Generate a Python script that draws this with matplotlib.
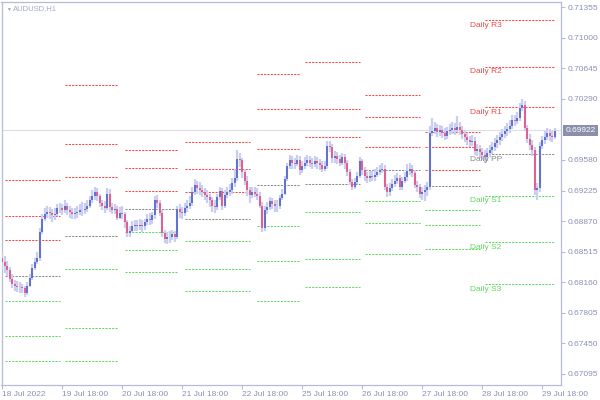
import matplotlib
matplotlib.use("Agg")
import matplotlib.pyplot as plt
import matplotlib.transforms as mtransforms
import numpy as np

plt.rcParams["font.family"] = ["Liberation Sans", "DejaVu Sans"]

# AUDUSD H1 bars, oldest first
first_open = 0.6844
closes = [
    0.6839, 0.6835, 0.6830, 0.6820, 0.6814, 0.6812, 0.6811, 0.6810, 0.6809, 0.6803,
    0.6812, 0.6821, 0.6833, 0.6839, 0.6844, 0.6874, 0.6890, 0.6895, 0.6898, 0.6896,
    0.6894, 0.6895, 0.6902, 0.6902, 0.6900, 0.6904, 0.6900, 0.6897, 0.6895, 0.6896,
    0.6897, 0.6900, 0.6900, 0.6901, 0.6905, 0.6911, 0.6916, 0.6921, 0.6916, 0.6908,
    0.6904, 0.6902, 0.6919, 0.6903, 0.6900, 0.6901, 0.6891, 0.6896, 0.6895, 0.6886,
    0.6873, 0.6876, 0.6881, 0.6882, 0.6881, 0.6883, 0.6881, 0.6886, 0.6889, 0.6888,
    0.6894, 0.6911, 0.6908, 0.6896, 0.6873, 0.6866, 0.6868, 0.6868, 0.6872, 0.6869,
    0.6901, 0.6897, 0.6896, 0.6902, 0.6905, 0.6908, 0.6921, 0.6929, 0.6925, 0.6923,
    0.6921, 0.6917, 0.6915, 0.6911, 0.6905, 0.6903, 0.6915, 0.6922, 0.6904, 0.6917,
    0.6921, 0.6923, 0.6931, 0.6937, 0.6959, 0.6958, 0.6944, 0.6934, 0.6923, 0.6917,
    0.6921, 0.6919, 0.6916, 0.6905, 0.6879, 0.6900, 0.6903, 0.6910, 0.6907, 0.6905,
    0.6904, 0.6914, 0.6919, 0.6936, 0.6951, 0.6958, 0.6954, 0.6953, 0.6958, 0.6946,
    0.6951, 0.6954, 0.6958, 0.6955, 0.6953, 0.6957, 0.6954, 0.6952, 0.6948, 0.6951,
    0.6974, 0.6973, 0.6960, 0.6962, 0.6959, 0.6955, 0.6961, 0.6954, 0.6944, 0.6932,
    0.6927, 0.6932, 0.6939, 0.6957, 0.6946, 0.6939, 0.6937, 0.6939, 0.6938, 0.6941,
    0.6944, 0.6946, 0.6948, 0.6926, 0.6921, 0.6925, 0.6930, 0.6934, 0.6937, 0.6926,
    0.6933, 0.6938, 0.6945, 0.6948, 0.6943, 0.6929, 0.6926, 0.6918, 0.6921, 0.6923,
    0.6926, 0.6989, 0.6992, 0.6995, 0.6990, 0.6993, 0.6989, 0.6986, 0.6992, 0.6993,
    0.6995, 0.6993, 0.6996, 0.6993, 0.6988, 0.6985, 0.6981, 0.6979, 0.6980, 0.6968,
    0.6971, 0.6967, 0.6964, 0.6961, 0.6966, 0.6969, 0.6973, 0.6978, 0.6981, 0.6985,
    0.6988, 0.6992, 0.6994, 0.6997, 0.7004, 0.7003, 0.7007, 0.7018, 0.7022, 0.6995,
    0.6982, 0.6975, 0.6969, 0.6923, 0.6925, 0.6974, 0.6981, 0.6985, 0.6989, 0.6986,
    0.6985, 0.6992,
]
highs = [
    0.6851, 0.6846, 0.6841, 0.6834, 0.6825, 0.6819, 0.6817, 0.6816, 0.6814, 0.6812,
    0.6816, 0.6825, 0.6837, 0.6844, 0.6851, 0.6879, 0.6895, 0.6902, 0.6905, 0.6903,
    0.6901, 0.6902, 0.6907, 0.6908, 0.6907, 0.6911, 0.6908, 0.6904, 0.6902, 0.6902,
    0.6904, 0.6907, 0.6909, 0.6908, 0.6911, 0.6916, 0.6923, 0.6927, 0.6925, 0.6919,
    0.6912, 0.6910, 0.6925, 0.6924, 0.6908, 0.6907, 0.6905, 0.6903, 0.6904, 0.6897,
    0.6888, 0.6881, 0.6887, 0.6888, 0.6888, 0.6889, 0.6888, 0.6890, 0.6895, 0.6896,
    0.6898, 0.6916, 0.6917, 0.6912, 0.6900, 0.6877, 0.6874, 0.6875, 0.6877, 0.6876,
    0.6904, 0.6907, 0.6903, 0.6908, 0.6912, 0.6916, 0.6926, 0.6936, 0.6933, 0.6932,
    0.6929, 0.6925, 0.6923, 0.6919, 0.6915, 0.6911, 0.6919, 0.6927, 0.6925, 0.6923,
    0.6926, 0.6930, 0.6937, 0.6946, 0.6969, 0.6966, 0.6960, 0.6948, 0.6939, 0.6927,
    0.6926, 0.6927, 0.6925, 0.6921, 0.6909, 0.6904, 0.6909, 0.6915, 0.6914, 0.6912,
    0.6911, 0.6917, 0.6924, 0.6939, 0.6955, 0.6964, 0.6962, 0.6960, 0.6964, 0.6962,
    0.6957, 0.6961, 0.6964, 0.6962, 0.6960, 0.6962, 0.6961, 0.6959, 0.6957, 0.6957,
    0.6980, 0.6980, 0.6976, 0.6968, 0.6967, 0.6964, 0.6966, 0.6965, 0.6958, 0.6947,
    0.6936, 0.6937, 0.6944, 0.6961, 0.6959, 0.6950, 0.6944, 0.6945, 0.6945, 0.6947,
    0.6950, 0.6952, 0.6954, 0.6952, 0.6930, 0.6931, 0.6936, 0.6940, 0.6943, 0.6940,
    0.6938, 0.6944, 0.6953, 0.6954, 0.6952, 0.6946, 0.6933, 0.6930, 0.6927, 0.6929,
    0.6932, 0.6997, 0.7007, 0.7002, 0.7000, 0.6999, 0.6997, 0.6995, 0.6996, 0.7000,
    0.7002, 0.7001, 0.7009, 0.7002, 0.6997, 0.6993, 0.6989, 0.6986, 0.6987, 0.6985,
    0.6976, 0.6975, 0.6972, 0.6969, 0.6972, 0.6975, 0.6979, 0.6983, 0.6987, 0.6990,
    0.6994, 0.6997, 0.7001, 0.7004, 0.7010, 0.7010, 0.7014, 0.7024, 0.7029, 0.7026,
    0.6999, 0.6988, 0.6981, 0.6973, 0.6931, 0.6979, 0.6986, 0.6992, 0.6995, 0.6994,
    0.6992, 0.6995,
]
lows = [
    0.6830, 0.6827, 0.6823, 0.6816, 0.6809, 0.6806, 0.6805, 0.6804, 0.6803, 0.6799,
    0.6801, 0.6810, 0.6819, 0.6830, 0.6837, 0.6841, 0.6872, 0.6887, 0.6891, 0.6889,
    0.6886, 0.6888, 0.6893, 0.6896, 0.6894, 0.6896, 0.6894, 0.6891, 0.6890, 0.6890,
    0.6891, 0.6894, 0.6893, 0.6895, 0.6897, 0.6902, 0.6908, 0.6912, 0.6910, 0.6903,
    0.6900, 0.6896, 0.6900, 0.6897, 0.6895, 0.6895, 0.6888, 0.6889, 0.6889, 0.6879,
    0.6868, 0.6869, 0.6874, 0.6876, 0.6875, 0.6877, 0.6874, 0.6877, 0.6882, 0.6883,
    0.6884, 0.6889, 0.6902, 0.6893, 0.6869, 0.6861, 0.6860, 0.6862, 0.6865, 0.6863,
    0.6866, 0.6891, 0.6890, 0.6893, 0.6898, 0.6901, 0.6904, 0.6917, 0.6919, 0.6917,
    0.6915, 0.6911, 0.6908, 0.6903, 0.6897, 0.6896, 0.6900, 0.6912, 0.6900, 0.6902,
    0.6914, 0.6916, 0.6919, 0.6927, 0.6933, 0.6950, 0.6937, 0.6929, 0.6916, 0.6908,
    0.6914, 0.6915, 0.6911, 0.6902, 0.6874, 0.6875, 0.6895, 0.6900, 0.6901, 0.6897,
    0.6898, 0.6901, 0.6911, 0.6917, 0.6933, 0.6948, 0.6948, 0.6948, 0.6951, 0.6941,
    0.6943, 0.6948, 0.6951, 0.6950, 0.6947, 0.6950, 0.6948, 0.6946, 0.6944, 0.6945,
    0.6948, 0.6967, 0.6955, 0.6955, 0.6953, 0.6951, 0.6952, 0.6948, 0.6939, 0.6929,
    0.6923, 0.6924, 0.6930, 0.6937, 0.6941, 0.6934, 0.6931, 0.6932, 0.6933, 0.6934,
    0.6938, 0.6940, 0.6943, 0.6923, 0.6915, 0.6916, 0.6922, 0.6926, 0.6930, 0.6923,
    0.6923, 0.6931, 0.6934, 0.6941, 0.6938, 0.6925, 0.6921, 0.6914, 0.6912, 0.6910,
    0.6916, 0.6923, 0.6986, 0.6988, 0.6985, 0.6986, 0.6983, 0.6981, 0.6982, 0.6987,
    0.6988, 0.6987, 0.6990, 0.6987, 0.6982, 0.6979, 0.6975, 0.6973, 0.6974, 0.6964,
    0.6962, 0.6960, 0.6958, 0.6955, 0.6957, 0.6961, 0.6965, 0.6968, 0.6972, 0.6975,
    0.6980, 0.6983, 0.6986, 0.6989, 0.6994, 0.6997, 0.7000, 0.7003, 0.7015, 0.6992,
    0.6978, 0.6969, 0.6962, 0.6917, 0.6912, 0.6921, 0.6971, 0.6976, 0.6981, 0.6980,
    0.6979, 0.6982,
]
last_price = 0.69922

# time axis labels (bar index of each label)
x_tick_bars = [0, 24, 48, 72, 96, 120, 144, 168, 192, 216]
x_tick_labels = ["18 Jul 2022", "19 Jul 18:00", "20 Jul 18:00", "21 Jul 18:00",
                 "22 Jul 18:00", "25 Jul 18:00", "26 Jul 18:00", "27 Jul 18:00",
                 "28 Jul 18:00", "29 Jul 18:00"]
# the 0.69935 grid label sits under the price tag, so it is left out
y_ticks = [0.71355, 0.71000, 0.70645, 0.70290, 0.69580, 0.69225,
           0.68870, 0.68515, 0.68160, 0.67805, 0.67450, 0.67095]

# daily pivot levels, one value per trading day
day_start = [1, 25, 49, 73, 102, 121, 145, 169, 193]
day_end = [23, 46, 70, 99, 119, 143, 167, 191, 221]
r3 = [0.69347, 0.70450, 0.69692, 0.69792, 0.70581, 0.70717, 0.70334, 0.69901, 0.71205]
r2 = [0.68933, 0.69762, 0.69483, 0.69471, 0.70168, 0.70172, 0.70075, 0.69730, 0.70663]
r1 = [0.68651, 0.69382, 0.69216, 0.69208, 0.69704, 0.69846, 0.69730, 0.69460, 0.70191]
pp = [0.68236, 0.68694, 0.69011, 0.68891, 0.69286, 0.69301, 0.69460, 0.69281, 0.69646]
s1 = [0.67946, 0.68314, 0.68740, 0.68636, 0.68817, 0.68972, 0.69107, 0.68999, 0.69165]
s2 = [0.67533, 0.67625, 0.68538, 0.68314, 0.68410, 0.68430, 0.68848, 0.68821, 0.68624]
s3 = [0.67249, 0.67249, 0.68276, 0.68055, 0.67939, 0.68105, 0.68492, 0.68543, 0.68140]

RED = "#f24848"
GRAY = "#8a8a8a"
GREEN = "#62d862"
AXIS = "#8a91b3"

n = len(closes)
x = np.arange(n)
o = np.array([first_open] + closes[:-1])
c = np.array(closes)

fig = plt.figure(figsize=(6, 4), dpi=100)
ax = fig.add_axes([0.0025, 0.0375, 0.9325, 0.95825])

# current price line
ax.axhline(last_price, color="#dedee6", lw=0.8, zorder=1)

# pivot segments
pivots = [(r3, RED, "Daily R3"), (r2, RED, "Daily R2"), (r1, RED, "Daily R1"),
          (pp, GRAY, "Daily PP"), (s1, GREEN, "Daily S1"), (s2, GREEN, "Daily S2"),
          (s3, GREEN, "Daily S3")]
for vals, col, name in pivots:
    ax.hlines(vals, day_start, day_end, colors=col, linestyles=(0, (2, 1.2)),
              lw=0.75, zorder=2)
    ax.annotate(name, (day_start[-1], vals[-1]), xytext=(-11, -3.8),
                textcoords="offset points", ha="left", va="center",
                fontsize=6, color=col, zorder=5)

# candles
ax.vlines(x, lows, highs, color="#c9cff1", lw=1.6, zorder=3)
up = c >= o
ax.bar(x[up], (c - o)[up], bottom=o[up], width=0.7, color="#6272cf", zorder=4)
ax.bar(x[~up], (c - o)[~up], bottom=o[~up], width=0.7, color="#e2608f", zorder=4)

ax.set_xlim(-0.32, 223.48)
ax.set_ylim(0.66967, 0.71417)

for sp in ax.spines.values():
    sp.set_color("#b6bbd6")
    sp.set_linewidth(0.9)

ax.set_xticks(x_tick_bars, x_tick_labels)
for lbl in ax.get_xticklabels():
    lbl.set_ha("left")
ax.tick_params(axis="x", colors="#b6bbd6", labelcolor=AXIS, labelsize=6,
               length=3, width=0.8, pad=1.5)

ax.yaxis.tick_right()
ax.set_yticks(y_ticks)
ax.yaxis.set_major_formatter(matplotlib.ticker.FormatStrFormatter("%.5f"))
ax.tick_params(axis="y", colors="#b6bbd6", labelcolor=AXIS, labelsize=6,
               length=3, width=0.8, pad=2)

# last price tag
trans = mtransforms.blended_transform_factory(ax.transAxes, ax.transData)
ax.text(1.008, last_price, "0.69922", transform=trans, ha="left", va="center",
        fontsize=6, color="white", zorder=6, clip_on=False,
        bbox=dict(boxstyle="square,pad=0.25", fc="#8a90a9", ec="none"))

fig.text(6 / 600, 1 - 9 / 400, "\u25bc", fontsize=3.5, color="#9aa0b8",
         ha="left", va="center")
fig.text(13 / 600, 1 - 9 / 400, "AUDUSD,H1", fontsize=5.5, color="#a3a9c4",
         ha="left", va="center")

fig.savefig("out.png", dpi=100)
